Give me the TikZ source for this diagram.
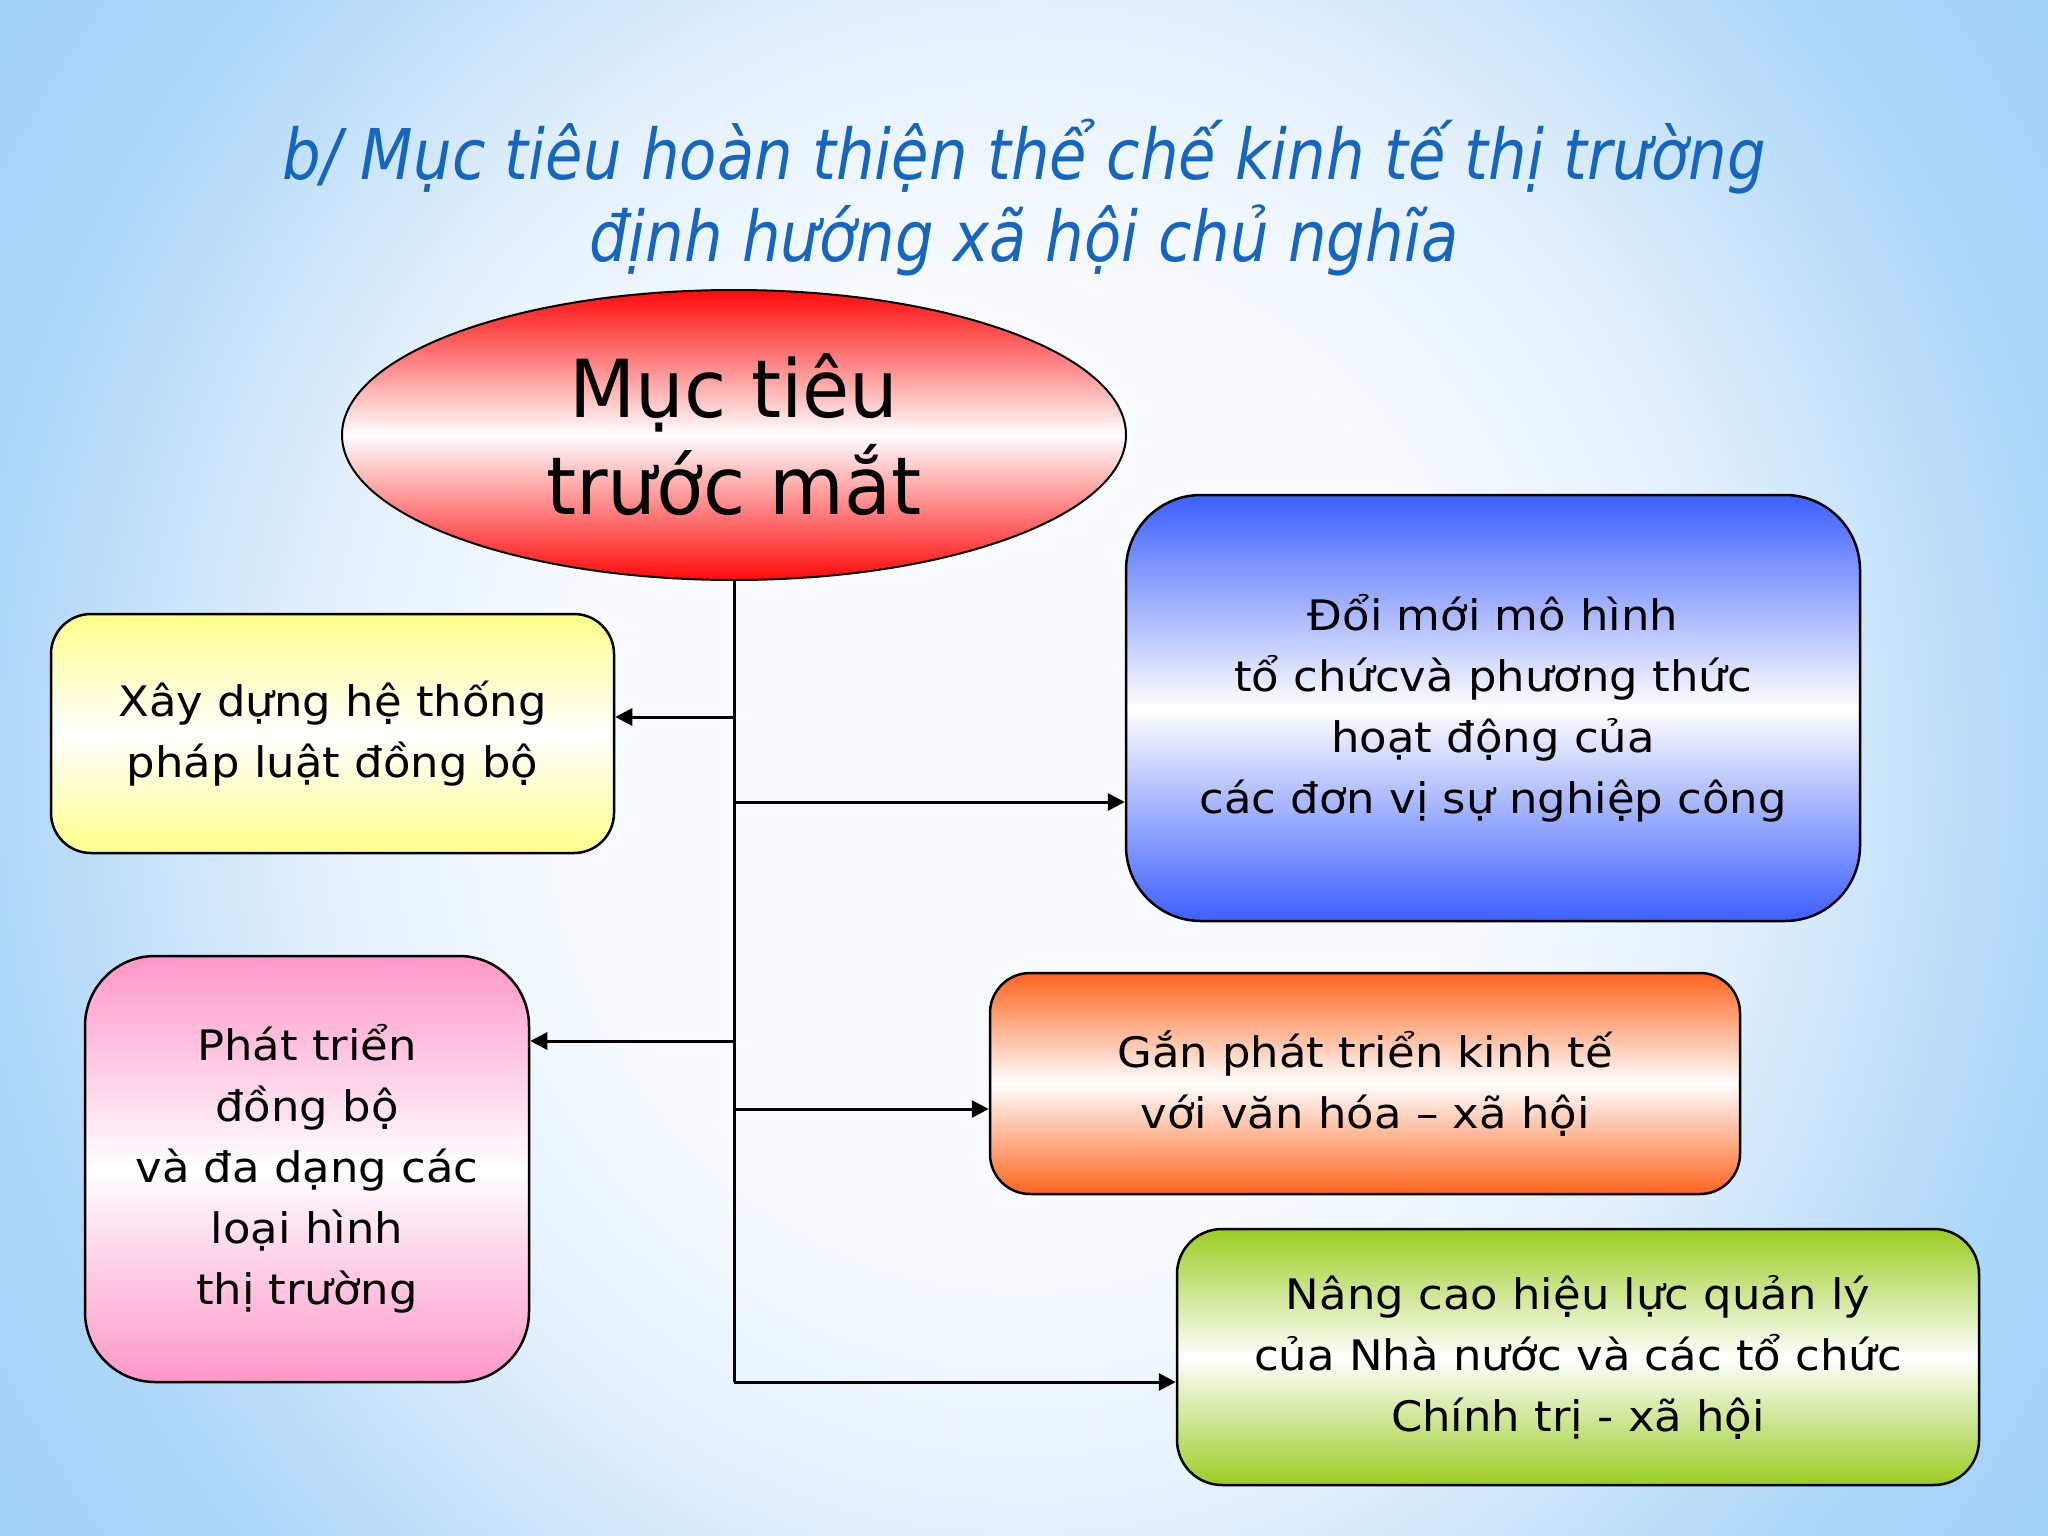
\documentclass[tikz,border=0pt]{standalone}
\usepackage{fontspec}
\usetikzlibrary{arrows.meta,shapes.geometric}
\setmainfont{DejaVu Sans}
\newfontfamily\boxfont{DejaVu Sans}[FakeStretch=1.07]
\newfontfamily\ellfont{DejaVu Sans}[FakeStretch=0.96]
\newfontfamily\titlefont{DejaVu Sans}[FakeStretch=0.87]
\definecolor{bgin}{RGB}{248,251,255}
\definecolor{bgpale}{RGB}{226,240,252}
\definecolor{bgmid}{RGB}{174,215,247}
\definecolor{bgout}{RGB}{155,208,246}
\definecolor{titleblue}{RGB}{20,102,192}
\definecolor{cyellow}{RGB}{255,255,140}
\definecolor{cblue}{RGB}{60,95,255}
\definecolor{cpink}{RGB}{255,150,200}
\definecolor{corange}{RGB}{255,100,30}
\definecolor{cgreen}{RGB}{155,205,35}
\definecolor{cred}{RGB}{255,10,10}
\pgfdeclareradialshading{bgshade}{\pgfpoint{0bp}{0bp}}{color(0bp)=(bgin); color(10bp)=(bgin); color(16bp)=(bgpale); color(23bp)=(bgmid); color(30bp)=(bgout); color(50bp)=(bgout)}
\tikzset{
  goalbox/.style={draw=black, line width=2.5pt, align=center, inner sep=0pt,
    font=\boxfont\fontsize{42}{61}\selectfont, text=black},
  linkline/.style={draw=black, line width=3pt},
  linkarrow/.style={linkline, -{Triangle[length=17pt,width=17pt]}},
}
\begin{document}
\begin{tikzpicture}[x=1pt,y=-1pt]
\useasboundingbox (0,0) rectangle (2048,1536);
\begin{scope}
\clip (0,0) rectangle (2048,1536);
\shade[shading=bgshade] (-100,-450) rectangle (2148,1986);
\end{scope}
% title
\node[font=\titlefont\itshape\fontsize{70}{82}\selectfont, text=titleblue, align=center, anchor=center] (title) at (1024,198)
  {b/ Mục tiêu hoàn thiện thể chế kinh tế thị trường\\định hướng xã hội chủ nghĩa};
% ellipse
\node[draw=black, line width=2pt, ellipse, minimum width=784pt, minimum height=290pt, inner sep=0pt,
  top color=cred, bottom color=cred, middle color=white,
  font=\ellfont\fontsize{80}{97}\selectfont, align=center] (goal) at (734,435)
  {Mục tiêu\\trước mắt};
% boxes
\node[goalbox, rounded corners=40pt, minimum width=563pt, minimum height=239pt,
  top color=cyellow, bottom color=cyellow, middle color=white] (law) at (332.5,733.5)
  {Xây dựng hệ thống\\pháp luật đồng bộ};
\node[goalbox, rounded corners=75pt, minimum width=734pt, minimum height=426pt,
  top color=cblue, bottom color=cblue, middle color=white] (org) at (1493,708)
  {Đổi mới mô hình\\tổ chứcvà phương thức\\hoạt động của\\các đơn vị sự nghiệp công};
\node[goalbox, rounded corners=70pt, minimum width=444pt, minimum height=426pt,
  top color=cpink, bottom color=cpink, middle color=white] (market) at (307,1169)
  {Phát triển\\đồng bộ\\và đa dạng các\\loại hình\\thị trường};
\node[goalbox, rounded corners=40pt, minimum width=750pt, minimum height=221pt,
  top color=corange, bottom color=corange, middle color=white] (culture) at (1365,1083.5)
  {Gắn phát triển kinh tế\\với văn hóa – xã hội};
\node[goalbox, rounded corners=45pt, minimum width=802pt, minimum height=256pt,
  top color=cgreen, bottom color=cgreen, middle color=white] (state) at (1578,1357)
  {Nâng cao hiệu lực quản lý\\của Nhà nước và các tổ chức\\Chính trị - xã hội};
% connectors
\coordinate (j1) at (734,717);
\coordinate (j2) at (734,802);
\coordinate (j3) at (734,1041);
\coordinate (j4) at (734,1109);
\coordinate (j5) at (734,1382);
\draw[linkline] (goal.south) -- (j5);
\draw[linkarrow] (j1) -- (j1 -| law.east);
\draw[linkarrow] (j2) -- (j2 -| org.west);
\draw[linkarrow] (j3) -- (j3 -| market.east);
\draw[linkarrow] (j4) -- (j4 -| culture.west);
\draw[linkarrow] (j5) -- (j5 -| state.west);
\end{tikzpicture}
\end{document}
